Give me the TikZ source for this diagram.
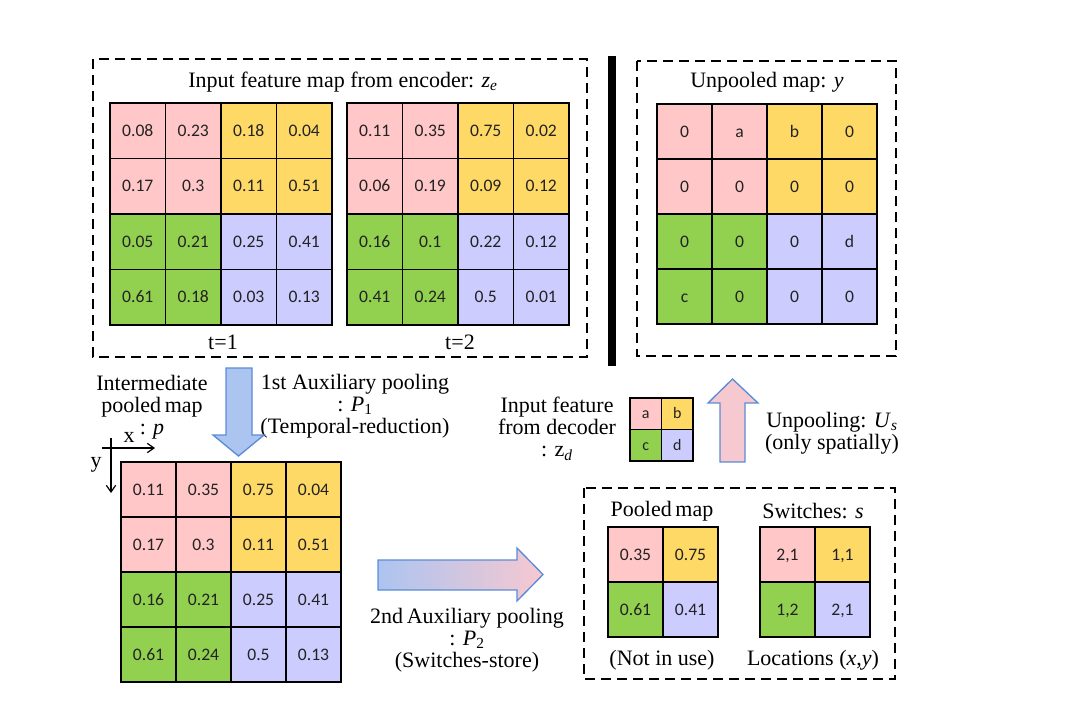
\documentclass[tikz,border=0pt]{standalone}
\usepackage{fontspec}
\setmainfont{Liberation Serif}
\newfontfamily\cellfont{Carlito}
\usetikzlibrary{arrows.meta}
\definecolor{q0}{RGB}{255,199,199}
\definecolor{q1}{RGB}{255,217,102}
\definecolor{q2}{RGB}{146,208,80}
\definecolor{q3}{RGB}{204,204,255}
\definecolor{celltext}{RGB}{35,35,35}
\definecolor{arrowedge}{RGB}{91,140,215}
\definecolor{arrowblue}{RGB}{172,196,240}
\definecolor{arrowpink}{RGB}{246,200,208}
\tikzset{
  cell/.style={draw=black, line width=1.4pt, minimum size=#1*0.75pt, inner sep=0pt,
    font=\cellfont\fontsize{13.2}{14}\selectfont, text=celltext,
    text height=8.4pt, text depth=0pt},
  smallcell/.style={font=\cellfont\fontsize{12}{13}\selectfont, text height=7.6pt},
  lbl/.style={font=\fontsize{16.5}{16.5}\selectfont, align=center, inner sep=0pt},
  dbox/.style={draw=black, line width=1.8pt, dash pattern=on 7.5pt off 4.5pt},
  blockarrow/.style={draw=arrowedge, line width=1pt, line join=miter},
  axis/.style={-{Straight Barb[length=5pt,width=7pt]}, line width=0.9pt}
}
\newcommand\mygrid[7][]{% opt style, name, x0, y0, n, size(px), values
  \foreach \v [count=\k from 0] in {#7} {
    \pgfmathtruncatemacro\rr{div(\k,#5)}
    \pgfmathtruncatemacro\cc{mod(\k,#5)}
    \pgfmathtruncatemacro\qq{2*(\rr>=#5/2)+(\cc>=#5/2)}
    \node[cell=#6, fill=q\qq, #1] (#2-\rr-\cc) at ({#3+(\cc+0.5)*#6},{#4+(\rr+0.5)*#6}) {\v};
  }
}
\begin{document}
\begin{tikzpicture}[x=0.75pt,y=-0.75pt]
\useasboundingbox (0,0) rectangle (1066,718);
% dashed frames
\draw[dbox] (93,59) rectangle (587,357);
\draw[dbox] (637,61) rectangle (896,356);
\draw[dbox] (584,488) rectangle (895,679);
% separator bar
\fill[black] (608,56) rectangle (615.5,366);
% titles
\node[lbl] (t1) at (343,82) {Input feature map from encoder: \textit{z}\textsubscript{\textit{e}}};
\node[lbl] (tt1) at (223,342) {t=1};
\node[lbl] (tt2) at (460,342) {t=2};
\node[lbl] (tu) at (767,82) {Unpooled map: \textit{y}};
% grids
\mygrid{ga}{110}{103}{4}{55.5}{0.08,0.23,0.18,0.04,0.17,0.3,0.11,0.51,0.05,0.21,0.25,0.41,0.61,0.18,0.03,0.13}
\mygrid{gb}{347}{103}{4}{55.5}{0.11,0.35,0.75,0.02,0.06,0.19,0.09,0.12,0.16,0.1,0.22,0.12,0.41,0.24,0.5,0.01}
\mygrid{gu}{657}{104}{4}{55}{0,a,b,0,0,0,0,0,0,0,0,d,c,0,0,0}
\mygrid{gp}{121}{462}{4}{55}{0.11,0.35,0.75,0.04,0.17,0.3,0.11,0.51,0.16,0.21,0.25,0.41,0.61,0.24,0.5,0.13}
\mygrid{gm}{608}{527}{2}{55}{0.35,0.75,0.61,0.41}
\mygrid{gs}{760}{527}{2}{55}{{2,1},{1,1},{1,2},{2,1}}
\mygrid[smallcell]{gd}{630}{398}{2}{31.5}{a,b,c,d}
% side labels
\node[lbl] (inter) at (152,407) {Intermediate\\pooled\,map\\: \textit{p}};
\node[lbl] (aux1) at (355,406) {1st Auxiliary pooling\\: \textit{P}\textsubscript{1}\\(Temporal-reduction)};
\node[lbl] (dec) at (557,429) {Input feature\\from decoder\\: z\textsubscript{\textit{d}}};
\node[lbl] (unp) at (832,433) {Unpooling: \textit{U}\textsubscript{\textit{s}}\\(only spatially)};
\node[lbl] (aux2) at (467,640) {2nd\,Auxiliary pooling\\: \textit{P}\textsubscript{2}\\(Switches-store)};
\node[lbl] (pm) at (662,511) {Pooled\,map};
\node[lbl] (niu) at (662,660) {(Not in use)};
\node[lbl] (sw) at (813,511) {Switches: \textit{s}};
\node[lbl] (loc) at (813,660) {Locations (\textit{x},\textit{y})};
% axes
\coordinate (ox1) at (102,448);
\coordinate (ox2) at (155,448);
\coordinate (oy1) at (111,438);
\coordinate (oy2) at (111,493);
\draw[axis] (ox1) -- (ox2);
\draw[axis] (oy1) -- (oy2);
\node[lbl] (axx) at (129,437) {x};
\node[lbl] (axy) at (96,465) {y};
% block arrows
\filldraw[blockarrow, fill=arrowblue] (226,368) -- (252,368) -- (252,435) -- (264,435) -- (238.5,456) -- (213,435) -- (226,435) -- cycle;
\filldraw[blockarrow, fill=arrowpink] (720,462) -- (745,462) -- (745,403) -- (758,403) -- (732.5,379) -- (708,403) -- (720,403) -- cycle;
\shadedraw[blockarrow, left color=arrowblue, right color=arrowpink] (378,560) -- (517,560) -- (517,548) -- (543,574.5) -- (517,601) -- (517,590) -- (378,590) -- cycle;
\end{tikzpicture}
\end{document}
